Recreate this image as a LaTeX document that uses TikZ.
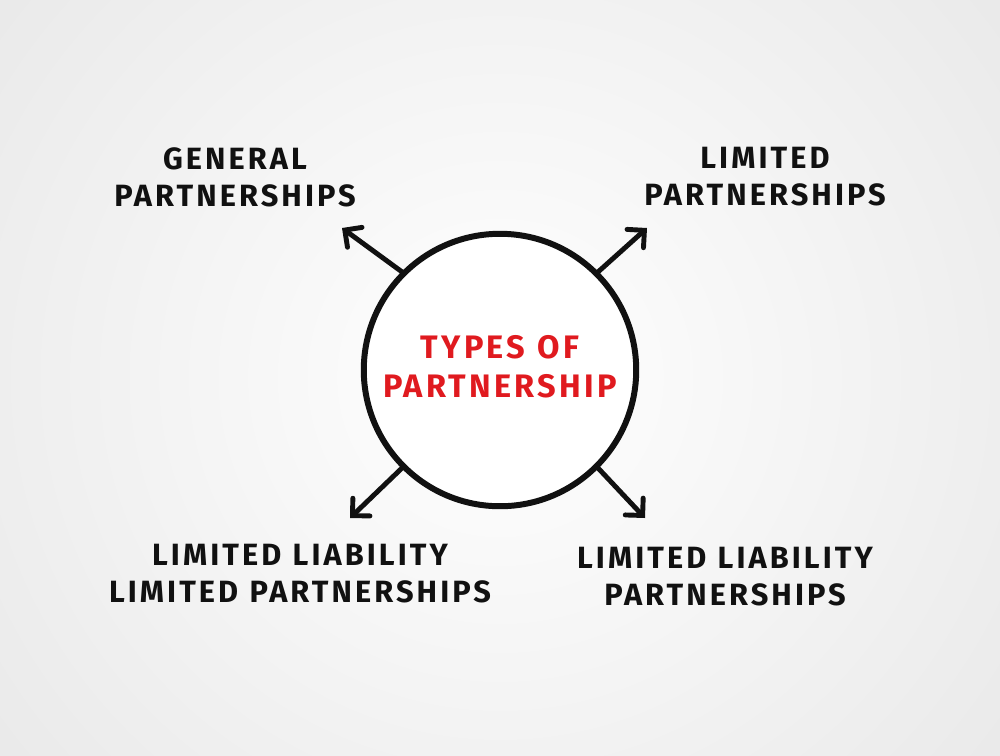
\documentclass[tikz,border=0pt]{standalone}
\usepackage{fontspec}
\usepackage{xcolor}
\usepackage{tikz}
\usetikzlibrary{arrows.meta}
\setmainfont{Fira Sans}[LetterSpace=10, WordSpace=1.1]
\definecolor{c1}{HTML}{E01A1F}
\definecolor{c2}{HTML}{111111}
\definecolor{c3}{HTML}{E0E0E0}

\begin{document}
\begin{tikzpicture}[x=0.02cm, y=-0.02cm,
        label/.style={font=\fontsize{17.5}{19}\selectfont\bfseries, text=c2, align=center, inner sep=0pt},
        arr/.style={c2, line width=2.8pt, line cap=round, -{Straight Barb[length=7pt, width=14pt, line cap=round]}}]
        \useasboundingbox (0,0) rectangle (1000,755);
        \fill [c3] (0,0) rectangle (1000,755);
        \shade [inner color=white, outer color=c3] (-420,-520) rectangle (1420,1275);
        \node [circle, draw=c2, line width=3.4pt, minimum size=5.45cm, fill=white, inner sep=0pt] (hub) at (500,370) {};
        \node [font=\fontsize{18.5}{21}\selectfont\bfseries, text=c1, align=center] (title) at (500,367) {TYPES OF\\[1pt]PARTNERSHIP};
        \node [label] (gp) at (235,177) {GENERAL\\[2pt]PARTNERSHIPS};
        \node [label] (lp) at (765,177) {LIMITED\\[2pt]PARTNERSHIPS};
        \node [label] (lllp) at (300,574) {LIMITED LIABILITY\\[2pt]LIMITED PARTNERSHIPS};
        \node [label] (llp) at (725,577) {LIMITED LIABILITY\\[2pt]PARTNERSHIPS};
        \coordinate (gptip) at (342,228);
        \coordinate (lptip) at (647,228);
        \coordinate (lllptip) at (350,518);
        \coordinate (llptip) at (645,518);
        \draw [arr] (hub.135) -- (gptip);
        \draw [arr] (hub.45) -- (lptip);
        \draw [arr] (hub.225) -- (lllptip);
        \draw [arr] (hub.315) -- (llptip);
    \end{tikzpicture}
\end{document}
